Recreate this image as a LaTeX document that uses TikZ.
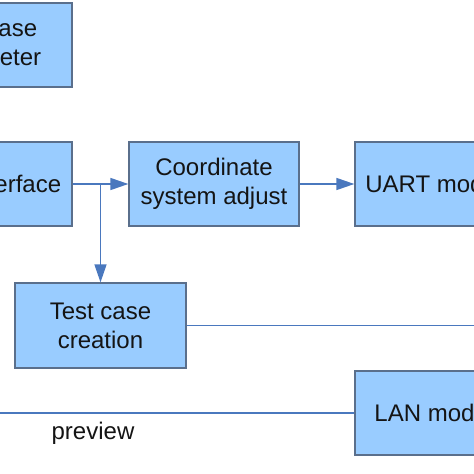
\documentclass[tikz,border=0pt]{standalone}
\usepackage{fontspec}
\setmainfont{Liberation Sans}
\usetikzlibrary{arrows.meta}
\definecolor{boxfill}{HTML}{99CCFF}
\definecolor{boxdraw}{HTML}{5A6F8C}
\definecolor{linecol}{HTML}{4A78BE}
\tikzstyle{block}=[rectangle,draw=boxdraw,fill=boxfill,line width=1.3pt,minimum width=171pt,minimum height=84pt,inner sep=0pt,align=center,font=\fontsize{24}{29}\selectfont,text=black!92]
\tikzstyle{label}=[font=\fontsize{24}{29}\selectfont,text=black!92,inner sep=0pt]
\tikzstyle{edge}=[draw=linecol,line width=1.5pt,-{Triangle[length=18pt,width=12pt]}]
\tikzstyle{line}=[draw=linecol,line width=1.5pt]

\begin{document}
\begin{tikzpicture}[x=1pt,y=-1pt]
\useasboundingbox (0,0) rectangle (474,474);
\clip (0,0) rectangle (474,474);

\node[block] (1) at (-13.5,45) {Test case\\parameter};
\node[block] (2) at (-13.5,184) {User interface};
\node[block,minimum width=170pt] (3) at (214,184) {Coordinate\\system adjust};
\node[block] (4) at (440.5,184) {UART module};
\node[block,minimum height=85pt] (5) at (100.5,325.5) {Test case\\creation};
\node[block] (6) at (440.5,413) {LAN module};

\coordinate (7) at (500,325.5);
\coordinate (8) at (-20,413);
\node[label] (9) at (93,433) {preview};

 \path[edge] (2) -- (3);
 \path[edge] (3) -- (4);
 \path[edge] (5.north |- 2.east) -- (5.north);
 \path[line] (5) -- (7);
 \path[line] (8) -- (6);
\end{tikzpicture}
\end{document}
